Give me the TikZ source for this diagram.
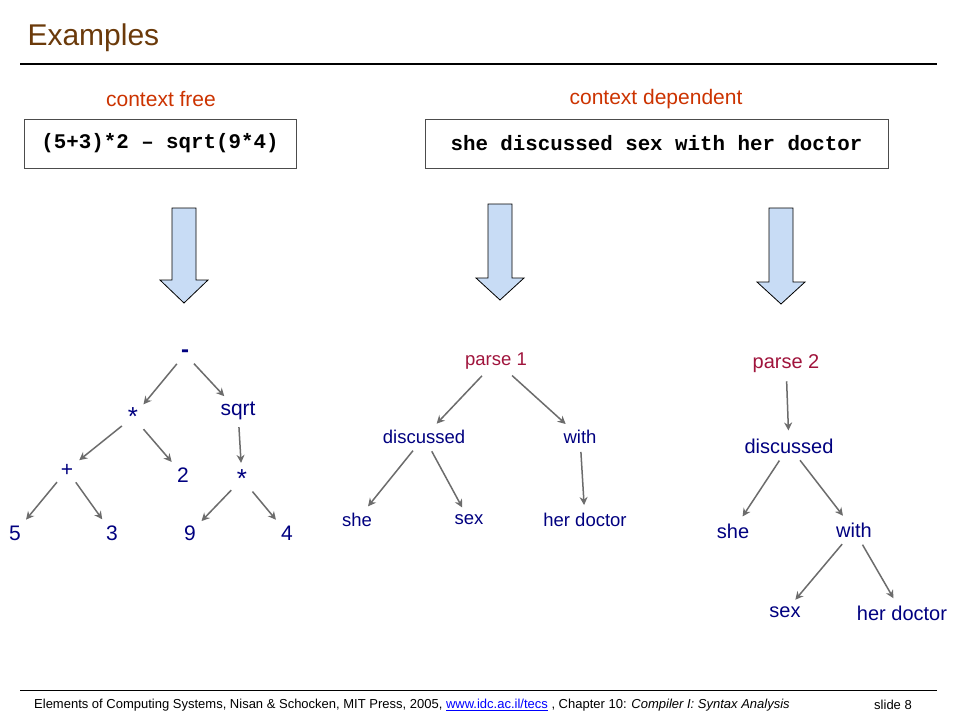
\documentclass[tikz,border=0pt]{standalone}
\usepackage{fontspec}
\setmainfont{Liberation Sans}
\setmonofont{Liberation Mono}
\usetikzlibrary{arrows.meta}
\definecolor{navy}{HTML}{000080}
\definecolor{hdr}{HTML}{CC3300}
\definecolor{prs}{HTML}{A0143C}
\definecolor{ttl}{HTML}{6B3A0A}
\definecolor{arrfill}{HTML}{C8DCF5}
\tikzset{
 tx/.style={text=navy,inner sep=2pt},
 tr/.style={tx,font=\fontsize{21}{23}\selectfont},
 md/.style={tx,font=\fontsize{18.5}{20}\selectfont},
 rt/.style={tx,font=\fontsize{20}{22}\selectfont},
 ed/.style={draw=gray!85!black,line width=1.5pt,-{Stealth[length=8pt,width=8pt]},shorten <=5pt,shorten >=5pt},
 codebox/.style={draw=black!70,fill=white,minimum height=49pt,font=\fontsize{20.8}{22}\selectfont\ttfamily\bfseries},
 big/.style={draw=black,fill=arrfill,line width=0.8pt},
}
\begin{document}
\begin{tikzpicture}[x=1pt,y=-1pt]
\useasboundingbox (0,0) rectangle (960,720);
\fill[white] (0,0) rectangle (960,720);
\node[anchor=west,text=ttl,font=\fontsize{30}{33}\selectfont] (title) at (24,38) {Examples};
\draw[line width=2.5pt] (20,64) -- (937,64);
\node[text=hdr,font=\fontsize{21}{23}\selectfont] (h1) at (161,99) {context free};
\node[text=hdr,font=\fontsize{21}{23}\selectfont] (h2) at (656,99) {context dependent};
\node[codebox,minimum width=272pt] (b1) at (160,143.5) {(5+3)*2 – sqrt(9*4)};
\node[codebox,minimum width=463pt] (b2) at (656.5,143.5) {she discussed sex with her doctor};
\foreach \c/\t/\h/\b in {184/208/280/303, 500/204/278/300, 781/208/282/304}{
 \draw[big] (\c-12,\t) -- (\c+12,\t) -- (\c+12,\h) -- (\c+24,\h) -- (\c,\b) -- (\c-24,\h) -- (\c-12,\h) -- cycle;}
% tree 1
\node[tr,font=\fontsize{24}{26}\selectfont\bfseries] (m) at (185,354) {-};
\node[tr,font=\fontsize{26}{28}\selectfont] (t1) at (133,417) {*};
\node[tr] (sq) at (238,411) {sqrt};
\node[tr] (pl) at (67,470) {+};
\node[tr] (two) at (183,475) {2};
\node[tr,font=\fontsize{26}{28}\selectfont] (t2) at (242,479) {*};
\node[tr] (n5) at (15,533) {5};
\node[tr] (n3) at (112,533) {3};
\node[tr] (n9) at (190,533) {9};
\node[tr] (n4) at (287,533) {4};
\foreach \a/\b in {m/t1,m/sq,t1/pl,t1/two,sq/t2,pl/n5,pl/n3,t2/n9,t2/n4}{\draw[ed] (\a) -- (\b);}
% parse 1
\node[md,text=prs] (p1) at (496,361) {parse 1};
\node[md] (d1) at (424,437) {discussed};
\node[md] (w1) at (580,437) {with};
\node[md] (s1) at (357,520) {she};
\node[md] (x1) at (469,520) {sex};
\node[md] (h1d) at (585,520) {her doctor};
\foreach \a/\b in {p1/d1,p1/w1,d1/s1,d1/x1,w1/h1d}{\draw[ed,shorten <=6pt,shorten >=6pt] (\a) -- (\b);}
% parse 2
\node[rt,text=prs] (p2) at (786,364) {parse 2};
\node[rt] (d2) at (789,446) {discussed};
\node[rt] (s2) at (733,531) {she};
\node[rt] (w2) at (854,530) {with};
\node[rt] (x2) at (785,612) {sex};
\node[rt] (h2d) at (902,613) {her doctor};
\foreach \a/\b in {p2/d2,d2/s2,d2/w2,w2/x2,w2/h2d}{\draw[ed,shorten <=6pt,shorten >=6pt] (\a) -- (\b);}
% footer
\draw[line width=0.6pt] (20,690) -- (937,690);
\node[anchor=west,font=\fontsize{13}{15}\selectfont,inner sep=0] (ft) at (34,705) {Elements of Computing Systems, Nisan \& Schocken, MIT Press, 2005, \textcolor{blue}{\underline{www.idc.ac.il/tecs}} , Chapter 10: \textit{Compiler I: Syntax Analysis}};
\node[anchor=east,font=\fontsize{13}{15}\selectfont,inner sep=0] (sl) at (912,705) {slide 8};
\end{tikzpicture}
\end{document}
